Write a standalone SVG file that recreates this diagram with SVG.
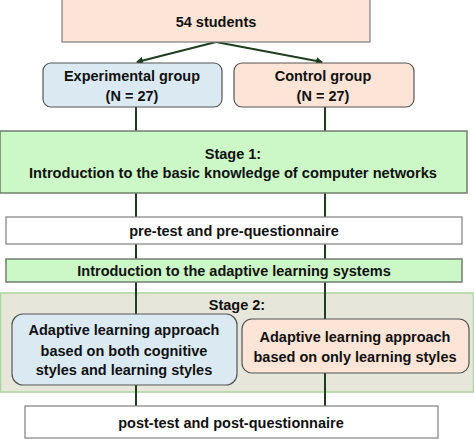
<svg xmlns="http://www.w3.org/2000/svg" width="474" height="439" viewBox="0 0 474 439">
<defs>
<style>
text{font-family:"Liberation Sans",Arial,sans-serif;font-weight:bold;font-size:14.5px;fill:#111;text-anchor:middle}
.peach{fill:#fce4d6;stroke:#7f7f7f;stroke-width:1.2}
.blue{fill:#dbeaf2;stroke:#555;stroke-width:1.2}
.green{fill:#ccf7c6;stroke:#6d7f6d;stroke-width:1.5}
.white{fill:#fff;stroke:#7f7f7f;stroke-width:1.2}
.stage2{fill:#e7e6db;stroke:#a8d89a;stroke-width:1.5}
.ln{stroke:#1e3f1e;stroke-width:2;fill:none}
</style>
<marker id="ah" markerWidth="8" markerHeight="8" refX="6" refY="4" orient="auto" markerUnits="userSpaceOnUse">
<path d="M0,0 L7,4 L0,8 z" fill="#1e3f1e"/>
</marker>
</defs>
<rect width="474" height="439" fill="#fff"/>
<g id="stage2-container"><rect class="stage2" x="0.5" y="293" width="473" height="99"/><text x="237" y="310">Stage 2:</text></g>
<g id="connectors">
<line class="ln" x1="216" y1="42" x2="137" y2="62" marker-end="url(#ah)"/>
<line class="ln" x1="216" y1="42" x2="322" y2="62" marker-end="url(#ah)"/>
<line class="ln" x1="136" y1="107" x2="136" y2="131"/>
<line class="ln" x1="325" y1="107" x2="325" y2="131"/>
<line class="ln" x1="136" y1="193" x2="136" y2="217"/>
<line class="ln" x1="325" y1="193" x2="325" y2="217"/>
<line class="ln" x1="136" y1="244" x2="136" y2="259"/>
<line class="ln" x1="325" y1="244" x2="325" y2="259"/>
<line class="ln" x1="136" y1="282" x2="136" y2="314"/>
<line class="ln" x1="325" y1="282" x2="325" y2="319"/>
<line class="ln" x1="136" y1="385" x2="136" y2="406"/>
<line class="ln" x1="325" y1="373" x2="325" y2="406"/>
</g>
<g id="students"><rect class="peach" x="62" y="-1" width="308" height="43"/><text x="216" y="27">54 students</text></g>
<g id="experimental"><rect class="blue" x="43" y="63" width="179" height="44" rx="8"/><text x="132" y="81">Experimental group</text><text x="132" y="101">(N = 27)</text></g>
<g id="control"><rect class="peach" x="234" y="63" width="180" height="44" rx="8" style="stroke:#555"/><text x="323" y="81">Control group</text><text x="323" y="101">(N = 27)</text></g>
<g id="stage1"><rect class="green" x="0" y="131" width="467" height="62"/><text x="233" y="159">Stage 1:</text><text x="233" y="178" textLength="408" lengthAdjust="spacingAndGlyphs">Introduction to the basic knowledge of computer networks</text></g>
<g id="pretest"><rect class="white" x="6" y="217" width="456" height="27"/><text x="234" y="236">pre-test and pre-questionnaire</text></g>
<g id="intro-adaptive"><rect class="green" x="6" y="259" width="456" height="23"/><text x="234" y="276">Introduction to the adaptive learning systems</text></g>
<g id="approach-both"><rect class="blue" x="12" y="314" width="225" height="71" rx="11"/><text x="124" y="335">Adaptive learning approach</text><text x="124" y="356">based on both cognitive</text><text x="124" y="375">styles and learning styles</text></g>
<g id="approach-ls"><rect class="peach" x="242" y="319" width="227" height="54" rx="10" style="stroke:#555"/><text x="355" y="342">Adaptive learning approach</text><text x="355" y="362">based on only learning styles</text></g>
<g id="posttest"><rect class="white" x="25" y="406" width="413" height="32"/><text x="231" y="428">post-test and post-questionnaire</text></g>
</svg>
